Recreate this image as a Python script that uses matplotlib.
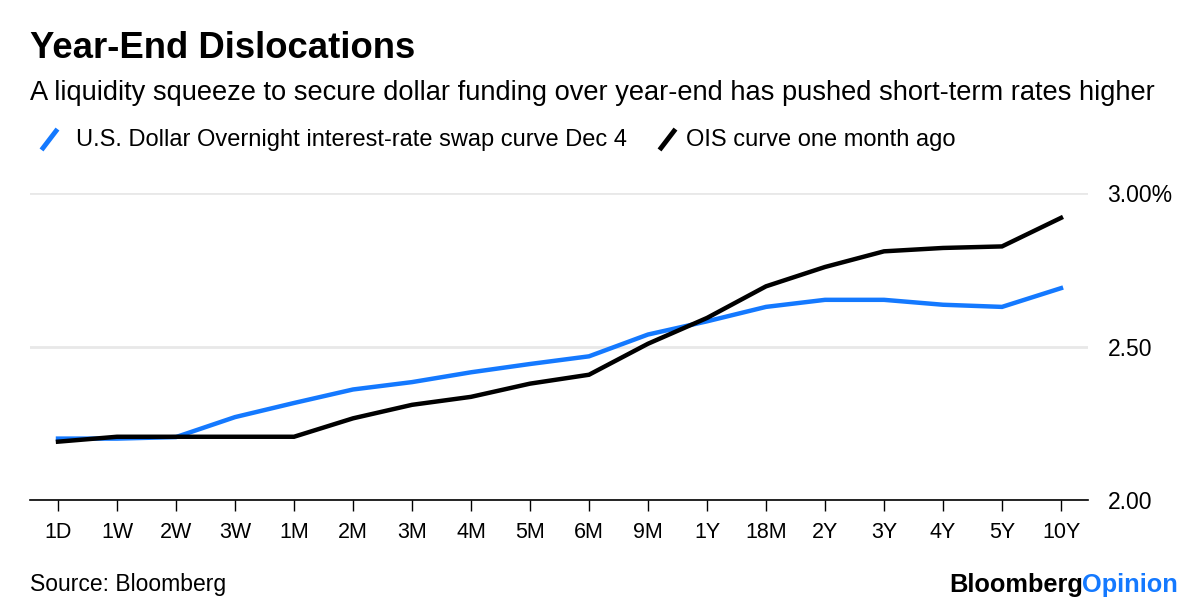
import matplotlib
matplotlib.use('Agg')
import matplotlib.pyplot as plt
from matplotlib.lines import Line2D

tenors = ['1D', '1W', '2W', '3W', '1M', '2M', '3M', '4M', '5M', '6M',
          '9M', '1Y', '18M', '2Y', '3Y', '4Y', '5Y', '10Y']
ois_dec4 = [2.20, 2.20, 2.205, 2.27, 2.316, 2.36, 2.384, 2.416, 2.443, 2.468,
            2.539, 2.582, 2.629, 2.652, 2.652, 2.636, 2.629, 2.69]
ois_month_ago = [2.19, 2.206, 2.206, 2.206, 2.206, 2.266, 2.31, 2.336, 2.379, 2.408,
                 2.509, 2.593, 2.696, 2.759, 2.81, 2.821, 2.826, 2.919]
yticks = [2.0, 2.5, 3.0]
ylabels = ['2.00', '2.50', '3.00%']

BLUE = '#1479ff'
W, H = 1200, 612
plt.rcParams['font.family'] = ['Liberation Sans', 'DejaVu Sans']

fig = plt.figure(figsize=(12, 6.12), dpi=100)
ax = fig.add_axes([30 / W, 1 - 500 / H, (1088 - 30) / W, (500 - 193) / H])

x = list(range(len(tenors)))
ax.plot(x, ois_dec4, color=BLUE, lw=3.2, solid_joinstyle='miter', zorder=3)
ax.plot(x, ois_month_ago, color='black', lw=3.2, solid_joinstyle='miter', zorder=4)

ax.set_xlim(-28 / 59, (1088 - 58) / 59)
ax.set_ylim(2.0, 3.0)
ax.set_xticks(x)
ax.set_xticklabels(tenors, fontsize=15.5)
ax.set_yticks(yticks)
ax.set_yticklabels(ylabels, fontsize=16.5)
ax.yaxis.tick_right()
ax.tick_params(axis='y', length=0, pad=14)
ax.tick_params(axis='x', direction='out', length=8, width=1, pad=8)
ax.grid(axis='y', color='#e8e8e8', lw=2)
ax.set_axisbelow(True)
for s in ['top', 'left', 'right']:
    ax.spines[s].set_visible(False)
ax.spines['bottom'].set_linewidth(1.2)
ax.spines['bottom'].set_zorder(5)

# titles
fig.text(30 / W, 1 - 49 / H, 'Year-End Dislocations', fontsize=26.3, fontweight='bold',
         va='center', ha='left')
fig.text(30 / W, 1 - 93 / H,
         'A liquidity squeeze to secure dollar funding over year-end has pushed short-term rates higher',
         fontsize=19.6, va='center', ha='left')

# legend
for (x0, x1, c) in [(43, 56, BLUE), (661, 674, 'black')]:
    fig.add_artist(Line2D([x0 / W, x1 / W], [1 - 148 / H, 1 - 131 / H],
                          transform=fig.transFigure, color=c, lw=3.5))
fig.text(76 / W, 1 - 140 / H, 'U.S. Dollar Overnight interest-rate swap curve Dec 4',
         fontsize=17, va='center', ha='left')
fig.text(686 / W, 1 - 140 / H, 'OIS curve one month ago', fontsize=17, va='center', ha='left')

# footer
fig.text(30 / W, 1 - 585 / H, 'Source: Bloomberg', fontsize=16.5, va='center', ha='left')
logo_font = ['Liberation Sans Narrow', 'Liberation Sans']
t_op = fig.text(1178 / W, 1 - 585 / H, 'Opinion', fontsize=18.3, fontweight='bold',
                family=logo_font, color=BLUE, va='center', ha='right')
r = fig.canvas.get_renderer()
bb = t_op.get_window_extent(r)
fig.text((bb.x0 + 1) / W, 1 - 585 / H, 'Bloomberg', fontsize=18.3, fontweight='bold',
         family=logo_font, color='black', va='center', ha='right')

fig.savefig('out.png', dpi=100, facecolor='white')
